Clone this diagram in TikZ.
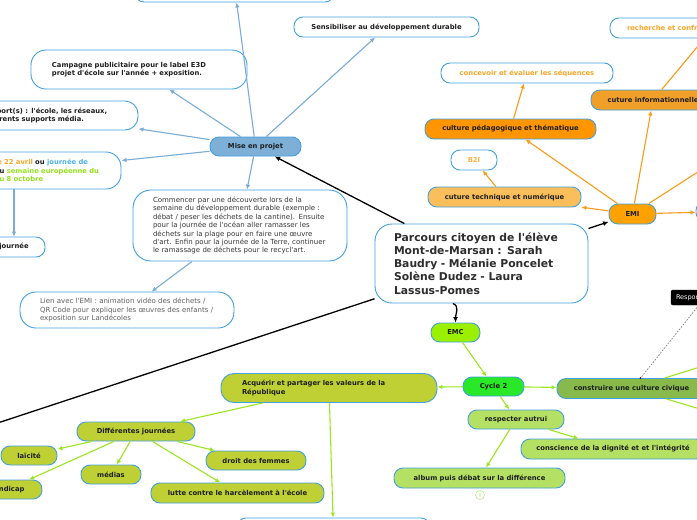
\documentclass[tikz,border=0pt]{standalone}
\usepackage{fontspec}
\setmainfont{DejaVu Sans}[Ligatures=TeXOff]
\usetikzlibrary{arrows.meta,calc}
\definecolor{bd}{RGB}{66,160,222}
\definecolor{txt}{RGB}{30,30,30}
\definecolor{ctext}{RGB}{45,45,45}
\definecolor{ntext}{RGB}{55,55,55}
\definecolor{gtext}{RGB}{95,95,95}
\definecolor{cblue}{RGB}{122,172,214}
\definecolor{corange}{RGB}{250,155,25}
\definecolor{cgreen}{RGB}{155,230,30}
\definecolor{fmise}{RGB}{125,175,215}
\definecolor{femi}{RGB}{255,162,0}
\definecolor{fpeda}{RGB}{255,150,0}
\definecolor{ftech}{RGB}{250,190,90}
\definecolor{finfo}{RGB}{240,160,40}
\definecolor{femc}{RGB}{155,240,0}
\definecolor{fcycle}{RGB}{40,232,40}
\definecolor{fconstr}{RGB}{135,185,75}
\definecolor{flg}{RGB}{180,225,100}
\definecolor{folive}{RGB}{190,208,52}
\definecolor{torange}{RGB}{248,166,40}
\definecolor{tlorange}{RGB}{250,180,70}
\definecolor{tblue}{RGB}{80,180,235}
\definecolor{tgreen}{RGB}{150,225,30}
\definecolor{onecol}{RGB}{185,235,130}
\newcommand\lbl{\fontsize{6.8}{8.5}\selectfont\bfseries}
\newcommand\cfont{\fontsize{10.8}{13.2}\selectfont\bfseries}
\newcommand\nfont{\fontsize{7}{8.45}\selectfont}
\tikzset{
  box/.style={draw=bd, line width=0.9pt, rounded corners=9pt, inner sep=0pt, fill=white, text=txt, font=\lbl, align=center},
  barr/.style={draw=cblue, line width=1.1pt, -{Latex[length=5pt,width=4.5pt]}},
  oarr/.style={draw=corange, line width=1.1pt, -{Latex[length=5pt,width=4.5pt]}},
  oline/.style={draw=corange, line width=1.1pt},
  garr/.style={draw=cgreen, line width=1.1pt, -{Latex[length=5pt,width=4.5pt]}},
  gline/.style={draw=cgreen, line width=1.1pt},
  karr/.style={draw=black, line width=1.3pt, -{Latex[length=5.5pt,width=5pt]}},
  kline/.style={draw=black, line width=1.3pt},
  dotline/.style={draw=gray, line width=0.7pt, dash pattern=on 1.6pt off 1.4pt}
}
\begin{document}
\begin{tikzpicture}[x=1pt,y=-1pt]
\useasboundingbox (0,0) rectangle (697,520);
\clip (0,0) rectangle (697,520);
\fill[white] (0,0) rectangle (697,520);

% ---- Mise en projet branch
\node[box, minimum width=199pt, minimum height=32pt] (top) at (234.5,-14) {};
\node[box, minimum width=185pt, minimum height=20pt] (sens) at (386.5,27) {Sensibiliser au développement durable};
\node[box, minimum width=216pt, minimum height=39pt, rounded corners=15pt, text width=174pt, align=left] (camp) at (139,69.5)
  {\mbox{Campagne publicitaire pour le label E3D}\\\mbox{projet d'école sur l'année + exposition.}};
\node[box, minimum width=176pt, minimum height=29pt, rounded corners=13pt, text width=136pt, align=left] (supp) at (50,115.5)
  {\mbox{Support(s) : l'école, les réseaux,}\\\mbox{différents supports média.}};
\node[box, minimum width=146pt, minimum height=37pt, rounded corners=15pt, text width=106pt, align=left] (fete) at (48,170.5)
  {\mbox{\textcolor{torange}{le 22 avril} ou \textcolor{tblue}{journée de}}\\\mbox{ou \textcolor{tgreen}{semaine européenne du}}\\\mbox{\textcolor{tgreen}{au 8 octobre}}};
\node[box, minimum width=62pt, minimum height=20pt] (jour) at (14,247) {journée};
\node[box, fill=fmise, minimum width=91pt, minimum height=19pt] (mise) at (255.5,146.5) {Mise en projet};
\node[box, minimum width=214pt, minimum height=71pt, rounded corners=18pt, text width=174pt, align=left, font=\nfont, text=ntext] (comm) at (240,225.5)
  {\mbox{Commencer par une découverte lors de la}\\
   \mbox{semaine du développement durable (exemple :}\\
   \mbox{débat / peser les déchets de la cantine). Ensuite}\\
   \mbox{pour la journée de l'océan aller ramasser les}\\
   \mbox{déchets sur la plage pour en faire une œuvre}\\
   \mbox{d'art. Enfin pour la journée de la Terre, continuer}\\
   \mbox{le ramassage de déchets pour le recycl'art.}};
\node[box, minimum width=214pt, minimum height=36pt, rounded corners=16pt, text width=174pt, align=left, font=\nfont, text=gtext] (lien) at (127,310)
  {\mbox{Lien avec l'EMI : animation vidéo des déchets /}\\
   \mbox{QR Code pour expliquer les œuvres des enfants /}\\
   \mbox{exposition sur Landécoles}};

% ---- central
\node[box, minimum width=213pt, minimum height=79pt, rounded corners=17pt, text width=175pt, align=left, font=\cfont, text=ctext] (central) at (481.5,263.5)
  {\mbox{Parcours citoyen de l'élève}\\\mbox{Mont-de-Marsan : Sarah}\\\mbox{Baudry - Mélanie Poncelet}\\\mbox{Solène Dudez - Laura}\\\mbox{Lassus-Pomes}};

% ---- EMI branch
\node[box, fill=femi, minimum width=47pt, minimum height=20pt] (emi) at (632.5,214) {EMI};
\node[box, fill=ftech, minimum width=153pt, minimum height=20pt] (tech) at (504.5,197) {cuture technique et numérique};
\node[box, minimum width=46pt, minimum height=20pt, text=tlorange] (b2i) at (474,160) {B2I};
\node[box, fill=fpeda, minimum width=171pt, minimum height=20pt] (peda) at (510.5,129) {culture pédagogique et thématique};
\node[box, minimum width=172pt, minimum height=20pt, text=torange] (conc) at (527,73) {concevoir et évaluer les séquences};
\node[box, fill=finfo, minimum width=124pt, minimum height=20pt] (info) at (653,100) {cuture informationnelle};
\node[box, minimum width=206pt, minimum height=20pt, text=torange, text width=172pt, align=left] (rech) at (713,28) {\mbox{recherche et confrontation}};
\node[box, minimum width=60pt, minimum height=20pt] (rbox) at (726,211.5) {};
\node[draw=black, fill=black, rounded corners=2pt, inner sep=0pt, minimum width=68pt, minimum height=15pt, text=white, font=\fontsize{6.5}{7}\selectfont, text width=58pt, align=left] (respon) at (705,297.5) {\mbox{Responsabilité}};

% ---- EMC branch
\node[box, fill=femc, minimum width=49pt, minimum height=19pt] (emc) at (455.5,332.5) {EMC};
\node[box, fill=fcycle, minimum width=61pt, minimum height=19pt] (cycle) at (493.5,386.5) {Cycle 2};
\node[box, fill=fconstr, minimum width=149pt, minimum height=20pt] (constr) at (631.5,388.5) {construire une culture civique};
\node[box, fill=flg, minimum width=96pt, minimum height=19pt] (resp) at (516,419.5) {respecter autrui};
\node[box, fill=flg, minimum width=184pt, minimum height=20pt] (consc) at (613,449) {conscience de la dignité et et l'intégrité};
\node[box, fill=flg, minimum width=171pt, minimum height=20pt] (album) at (479.5,478) {album puis débat sur la différence};
\node[draw=onecol, circle, line width=0.6pt, minimum size=9pt, inner sep=0pt, font=\fontsize{4.5}{5}\selectfont, text=onecol] (one) at (480,495) {1};
\node[box, fill=folive, minimum width=216pt, minimum height=29pt, rounded corners=13pt, text width=174pt, align=left] (acq) at (329,388)
  {\mbox{Acquérir et partager les valeurs de la}\\\mbox{République}};
\node[box, minimum width=193pt, minimum height=30pt] (bottom) at (333.5,533) {};
\node[box, fill=folive, minimum width=118pt, minimum height=19pt] (diff) at (136,431.5) {Différentes journées};
\node[box, fill=folive, minimum width=56pt, minimum height=19pt] (laic) at (29,455.5) {laïcité};
\node[box, fill=folive, minimum width=70pt, minimum height=19pt] (hand) at (7,489.5) {handicap};
\node[box, fill=folive, minimum width=60pt, minimum height=19pt] (medias) at (111,474.5) {médias};
\node[box, fill=folive, minimum width=100pt, minimum height=19pt] (droit) at (256,460.5) {droit des femmes};
\node[box, fill=folive, minimum width=173pt, minimum height=20pt] (lutte) at (237.5,493) {lutte contre le harcèlement à l'école};

% ---- off-canvas ends
\coordinate (offL) at (-60,442);
\coordinate (offE) at (740,145);
\coordinate (offCU) at (760,348);
\coordinate (offCD) at (760,427);
\coordinate (dotend) at ($(constr.north west)+(84,0)$);

% ---- connectors
\draw[karr] (central) -- (mise);
\draw[kline] (central) -- (offL);
\draw[karr] (central) -- (emi);
\draw[karr] ($(central.south)+(-28.5,0)$) .. controls +(7,3) and +(0,-9) .. (emc.north);

\draw[barr] (mise) -- (top);
\draw[barr] (mise) -- (sens);
\draw[barr] (mise) -- (camp);
\draw[barr] (mise) -- (supp);
\draw[barr] (mise) -- ($(fete.east)+(0,-10)$);
\draw[barr] (mise) -- (comm);
\draw[barr] (comm) -- (lien);
\draw[barr] (fete.south -| jour.north) -- (jour.north);

\draw[oarr] (emi) -- (tech);
\draw[oarr] (emi) -- (peda);
\draw[oarr] (emi) -- (info);
\draw[oline] (emi) -- (offE);
\draw[oarr] (emi) -- (rbox);
\draw[oarr] (tech) -- (b2i);
\draw[oarr] (peda) -- (conc);
\draw[oline] (info) -- (rech);

\draw[garr] (emc) -- (cycle);
\draw[garr] (cycle) -- (acq);
\draw[garr] (cycle) -- (constr);
\draw[garr] (cycle) -- (resp);
\draw[garr] (resp) -- (consc);
\draw[garr] (resp) -- (album);
\draw[gline] (constr) -- (offCU);
\draw[gline] (constr) -- (offCD);
\draw[garr] (acq) -- (diff);
\draw[garr] (acq) -- (bottom);
\draw[garr] (diff) -- (laic);
\draw[garr] (diff) -- (hand);
\draw[garr] (diff) -- (medias);
\draw[garr] (diff) -- (lutte);
\draw[garr] (diff) -- (droit);

\draw[dotline] (respon) -- (dotend);
\fill[black] (dotend) circle (1pt);
\end{tikzpicture}
\end{document}
